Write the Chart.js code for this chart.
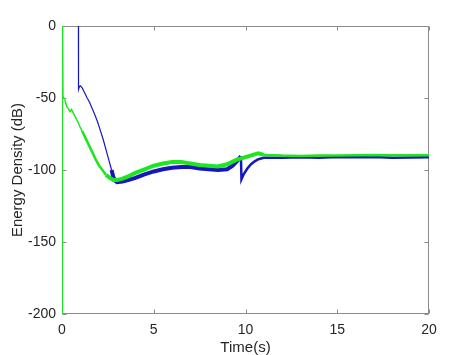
<!DOCTYPE html>
<html><head><meta charset="utf-8">
<script src="https://cdn.jsdelivr.net/npm/chart.js@4"></script>
<style>html,body{margin:0;padding:0;background:#fff}</style>
</head><body>
<canvas id="c" width="474" height="355"></canvas>
<script>
const xTicks = [0, 5, 10, 15, 20];
const yTicks = [0, -50, -100, -150, -200];

const greenTime = [0.02, 0.03, 0.06, 0.15, 0.26, 0.35, 0.44, 0.52, 0.62, 0.72, 0.8, 0.9, 0.98, 1.1, 1.25, 1.4, 1.55, 1.7, 1.85, 2.0, 2.2, 2.4, 2.6, 2.8, 3.0, 3.3, 3.6, 4.0, 4.5, 5.0, 5.5, 6.0, 6.5, 7.0, 7.5, 8.0, 8.5, 9.0, 9.5, 10.0, 10.4, 10.7, 11.0, 12, 13, 14, 15, 16, 17, 18, 19, 20];
const greenVal  = [-260, 20, -49, -51, -56, -57.5, -59.5, -58, -60.5, -63, -65, -67.5, -70, -73, -77, -81, -85, -89, -93, -96.5, -100, -103.5, -105.5, -107, -107, -106, -104.5, -102, -99.5, -97, -95.5, -94.5, -94.5, -95.5, -96.5, -97, -97.5, -96, -93, -91, -89.5, -88.5, -89.5, -90, -90.2, -90, -90, -89.8, -89.6, -89.8, -89.8, -89.8];

const blueTime = [0, 0.89, 0.9, 0.95, 1.0, 1.1, 1.2, 1.35, 1.5, 1.65, 1.8, 1.95, 2.1, 2.25, 2.4, 2.55, 2.7, 2.8, 2.9, 3.0, 3.3, 3.6, 4.0, 4.5, 5.0, 5.5, 6.0, 6.5, 7.0, 7.5, 8.0, 8.5, 9.0, 9.3, 9.6, 9.75, 9.78, 9.9, 10.1, 10.3, 10.5, 10.7, 11.0, 12, 13, 14, 15, 16, 17, 18, 19, 20];
const blueVal  = [30, 30, -44, -42, -41.5, -43, -45.5, -49.5, -53, -57.5, -62, -67, -73, -79, -86, -93, -100, -105, -107.5, -108.5, -108, -107, -105.5, -103, -101, -99.5, -98.5, -98, -98, -99, -99.5, -100, -99.5, -97, -93, -90.5, -106.5, -103, -99, -96, -94, -92.5, -91.5, -91.5, -91.2, -91.5, -91, -91.2, -91, -91.5, -91.3, -91.2];

const pts = (ts, vs) => ts.map((t, i) => ({x: t, y: vs[i]}));
const FONT = '"Liberation Sans", Arial, Helvetica, sans-serif';
const TXT = '#262626';
const AX = '#8c8c8c';

const frame = {
  id: 'frame',
  beforeDatasetsDraw(chart) {
    const {ctx, chartArea: a, scales: {x, y}} = chart;
    ctx.save();
    ctx.strokeStyle = AX;
    ctx.lineWidth = 1;
    const L = Math.round(a.left) + 0.5, R = Math.round(a.right) - 0.5;
    const T = Math.round(a.top) + 0.5, B = Math.round(a.bottom) - 0.5;
    ctx.strokeRect(L, T, R - L, B - T);
    ctx.beginPath();
    const tl = 4;
    xTicks.forEach(v => {
      const px = Math.round(x.getPixelForValue(v)) + 0.5;
      ctx.moveTo(px, B); ctx.lineTo(px, B - tl);
      ctx.moveTo(px, T); ctx.lineTo(px, T + tl);
    });
    yTicks.forEach(v => {
      const py = Math.round(y.getPixelForValue(v)) + 0.5;
      ctx.moveTo(L, py); ctx.lineTo(L + tl, py);
      ctx.moveTo(R, py); ctx.lineTo(R - tl, py);
    });
    ctx.stroke();
    ctx.restore();
  }
};

const greenW = c => {
  const t = c.p0.parsed.x;
  if (t < 0.1) return 1.2;
  if (t < 1.0) return 1.5;
  if (t < 2.4) return 2.5;
  if (t < 10.8) return 4;
  return 2.5;
};
const blueW = c => {
  const t = c.p0.parsed.x;
  if (t < 2.7) return 1.2;
  if (t < 9.7) return 4;
  return 2.5;
};

new Chart(document.getElementById('c'), {
  type: 'line',
  data: {
    datasets: [
      {
        label: 'green', data: pts(greenTime, greenVal),
        borderColor: '#1ee61e', borderWidth: 1.2, pointRadius: 0, tension: 0, clip: 0,
        segment: { borderWidth: greenW }
      },
      {
        label: 'blue', data: pts(blueTime, blueVal),
        borderColor: '#1616c0', borderWidth: 1.2, pointRadius: 0, tension: 0, clip: 0,
        segment: { borderWidth: blueW }
      }
    ]
  },
  options: {
    responsive: false,
    animation: false,
    events: [],
    layout: { padding: { left: 0, top: 26, right: 45, bottom: 0 } },
    plugins: { legend: { display: false }, tooltip: { enabled: false } },
    scales: {
      x: {
        type: 'linear', min: 0, max: 20,
        afterBuildTicks: s => { s.ticks = xTicks.map(v => ({value: v})); },
        afterFit: s => { s.height = 41; },
        grid: { display: false, drawTicks: false },
        border: { display: false },
        ticks: { font: { family: FONT, size: 14 }, color: TXT, padding: 8, maxRotation: 0 },
        title: { display: true, text: 'Time(s)', font: { family: FONT, size: 15 }, color: TXT, padding: { top: 0, bottom: -2 } }
      },
      y: {
        type: 'linear', min: -200, max: 0,
        afterBuildTicks: s => { s.ticks = yTicks.map(v => ({value: v})); },
        afterFit: s => { s.width = 62; },
        grid: { display: false, drawTicks: false },
        border: { display: false },
        ticks: { font: { family: FONT, size: 14 }, color: TXT, padding: 6 },
        title: { display: true, text: 'Energy Density (dB)', font: { family: FONT, size: 15 }, color: TXT, padding: { top: 9, bottom: 0 } }
      }
    }
  },
  plugins: [frame]
});
</script>
</body></html>
